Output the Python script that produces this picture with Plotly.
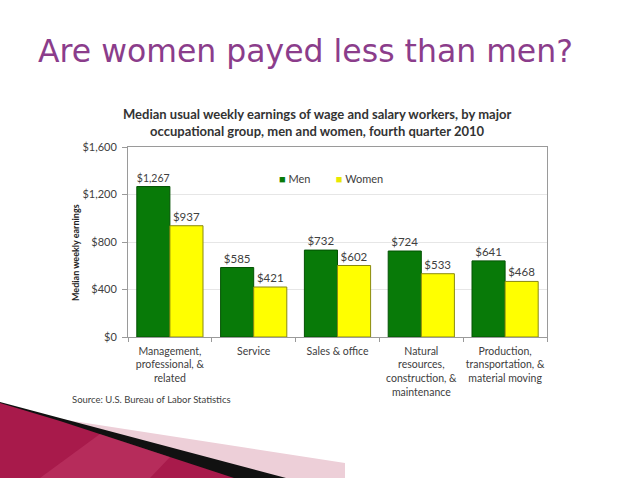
import plotly.graph_objects as go

categories = [
    "Management,<br>professional, &<br>related",
    "Service",
    "Sales & office",
    "Natural<br>resources,<br>construction, &<br>maintenance",
    "Production,<br>transportation, &<br>material moving",
]
men = [1267, 585, 732, 724, 641]
women = [937, 421, 602, 533, 468]
y_ticks = [0, 400, 800, 1200, 1600]
y_tick_labels = ["$0", "$400", "$800", "$1,200", "$1,600"]
series_names = ["Men", "Women"]

W, H = 638, 478
L, R, T, B = 128, 547, 147, 337


def px(x):
    return (x - L) / (R - L)


def py(y):
    return (B - y) / (B - T)


font_chart = "Lato, 'Open Sans', sans-serif"
txt_gray = "#404040"
men_color = "#087A08"
women_color = "#FFFF00"

fig = go.Figure()
fig.add_trace(go.Bar(
    name=series_names[0], x=categories, y=men, showlegend=False,
    marker=dict(color=men_color, line=dict(color="#035203", width=1)),
    text=[f"${v:,}" for v in men], textposition="outside",
    textfont=dict(family=font_chart, size=11.5, color=txt_gray),
    cliponaxis=False,
))
fig.add_trace(go.Bar(
    name=series_names[1], x=categories, y=women, showlegend=False,
    marker=dict(color=women_color, line=dict(color="#8A8A10", width=1)),
    text=[f"${v:,}" for v in women], textposition="outside",
    textfont=dict(family=font_chart, size=11.5, color=txt_gray),
    cliponaxis=False,
))

fig.update_layout(
    width=W, height=H,
    margin=dict(l=L, r=W - R, t=T, b=H - B),
    paper_bgcolor="white", plot_bgcolor="white",
    barmode="group", bargap=0.21, bargroupgap=0,
    font=dict(family=font_chart, size=10, color=txt_gray),
    showlegend=False,
    xaxis=dict(showline=True, linecolor="#9a9a9a", mirror=True, ticks="outside",
               tickson="boundaries", ticklen=4, tickcolor="#9a9a9a", tickangle=0,
               automargin=False, ticklabelstandoff=4,
               tickfont=dict(family=font_chart, size=10.5, color=txt_gray)),
    yaxis=dict(range=[0, 1600], tickvals=y_ticks, ticktext=y_tick_labels,
               showline=True, linecolor="#9a9a9a", mirror=True, ticks="outside",
               ticklen=5, tickcolor="#9a9a9a", showgrid=True, gridcolor="#e6e6e6",
               automargin=False, ticklabelstandoff=3,
               tickfont=dict(family=font_chart, size=11, color=txt_gray)),
)

legend_html = (
    f"<span style='color:{men_color}'>■</span> {series_names[0]}"
    f"         <span style='color:#E8E800'>■</span> {series_names[1]}"
)

annotations = [
    dict(text="Are women payed less than men?", x=px(36), y=py(51), xanchor="left",
         yanchor="middle", font=dict(family="DejaVu Sans", size=31.5, color="#8B3D8B")),
    dict(text="<b>Median usual weekly earnings of wage and salary workers, by major<br>occupational group, men and women, fourth quarter 2010</b>",
         x=px(317), y=py(122), xanchor="center", yanchor="middle",
         font=dict(family=font_chart, size=13, color="#333333")),
    dict(text="<b>Median weekly earnings</b>", x=px(75), y=py(253), textangle=-90,
         xanchor="center", yanchor="middle",
         font=dict(family=font_chart, size=9, color="#222222")),
    dict(text="Source: U.S. Bureau of Labor Statistics", x=px(70), y=py(399),
         xanchor="left", yanchor="middle",
         font=dict(family=font_chart, size=9.5, color=txt_gray)),
    dict(text=legend_html, x=px(277), y=py(178), xanchor="left", yanchor="middle",
         font=dict(family=font_chart, size=11, color=txt_gray)),
]
for a in annotations:
    a.update(xref="paper", yref="paper", showarrow=False)
fig.update_layout(annotations=annotations)

# decorative swoosh bottom-left
shapes = [
    dict(type="path", path="M 60 419 L 345 463 L 345 478 L 60 478 Z",
         fillcolor="#EDCFD8", line=dict(width=0)),
    dict(type="path", path="M 0 402 L 60 418 L 286 478 L 0 478 Z",
         fillcolor="#111111", line=dict(width=0)),
    dict(type="path", path="M 0 403 L 60 421 L 234 478 L 0 478 Z",
         fillcolor="#A81A4B", line=dict(width=0)),
    dict(type="path", path="M 40 478 L 100 434 L 170 457 L 150 478 Z",
         fillcolor="rgba(225,100,140,0.25)", line=dict(width=0)),
]
conv = []
for s in shapes:
    parts = s["path"].split()
    out = []
    i = 0
    while i < len(parts):
        t = parts[i]
        if t in ("M", "L"):
            xp = px(float(parts[i + 1]))
            yp = py(float(parts[i + 2]))
            out.append(f"{t} {xp} {yp}")
            i += 3
        else:
            out.append(t)
            i += 1
    s["path"] = " ".join(out)
    s.update(xref="paper", yref="paper", layer="below")
    conv.append(s)
fig.update_layout(shapes=conv)

fig.write_html("out.html", config={"displayModeBar": False},
               post_script="document.body.style.margin='0';")
